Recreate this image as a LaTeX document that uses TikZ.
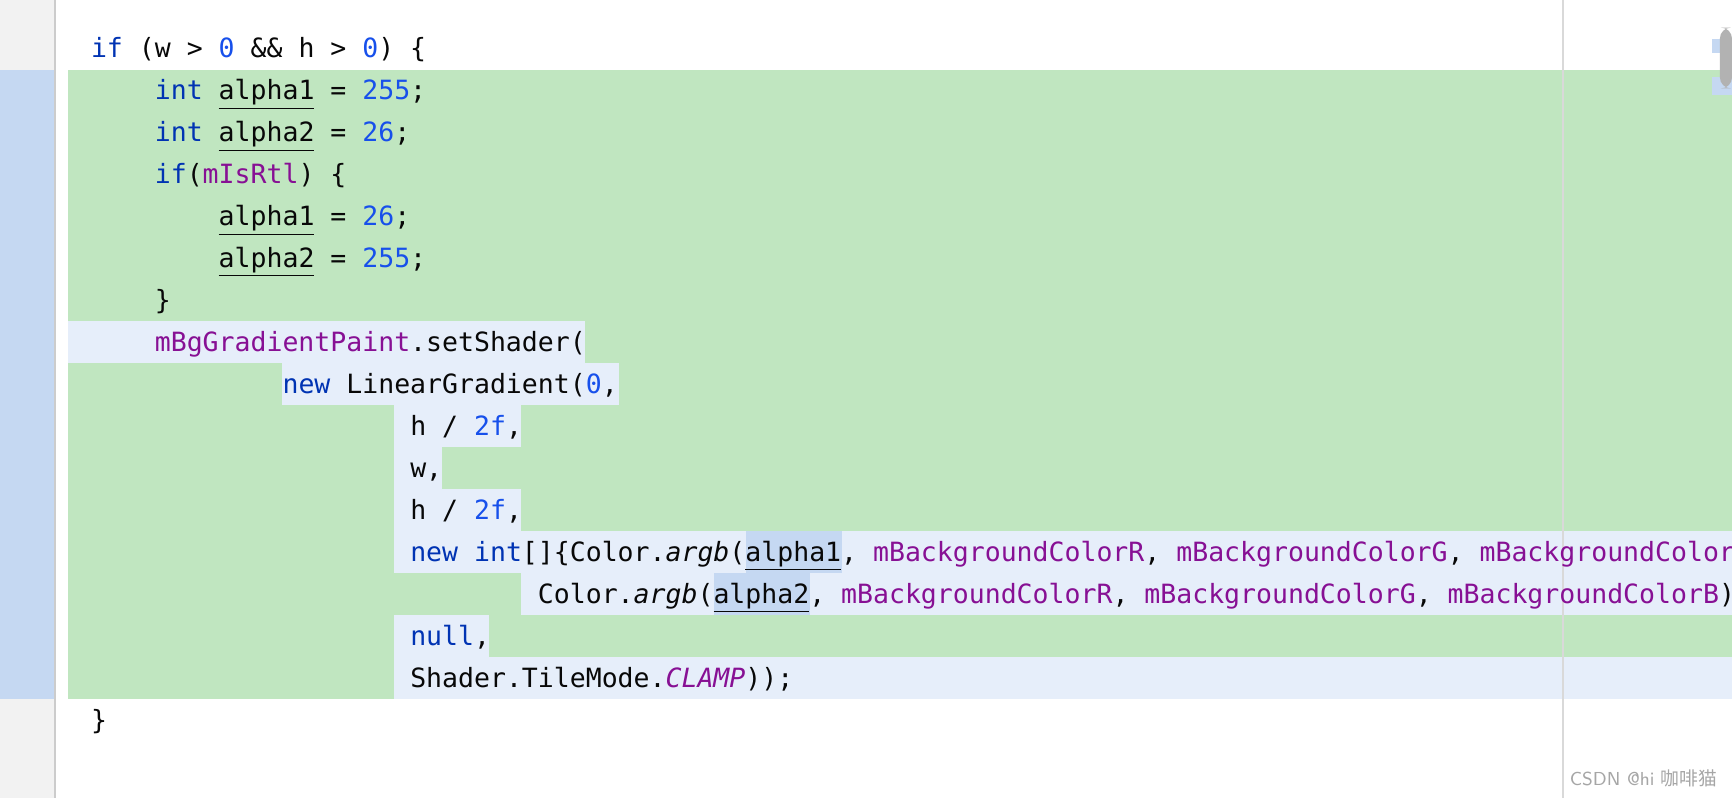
\documentclass[tikz,border=0pt]{standalone}
\usepackage{fontspec}
\setmonofont{DejaVu Sans Mono}
\newfontfamily\cjkf{Noto Sans CJK SC}
\definecolor{kw}{HTML}{0033B3}
\definecolor{nm}{HTML}{1750EB}
\definecolor{pu}{HTML}{871094}
\definecolor{tx}{HTML}{080808}
\definecolor{grn}{HTML}{C0E6C0}
\definecolor{lbl}{HTML}{E6EEFA}
\definecolor{dbl}{HTML}{C5D8F2}
\definecolor{gut}{HTML}{F2F2F2}
\newcommand{\Kw}[1]{\textcolor{kw}{#1}}
\newcommand{\Nm}[1]{\textcolor{nm}{#1}}
\newcommand{\Pu}[1]{\textcolor{pu}{#1}}
\newcommand{\Ul}[1]{\underline{#1}}
\tikzset{code/.style={anchor=base west,inner sep=0pt,font=\ttfamily\fontsize{12pt}{12pt}\selectfont,text=tx}}
\begin{document}
\begin{tikzpicture}[x=0.5pt,y=-0.5pt]
\useasboundingbox (0,0) rectangle (1568,722);
\clip (0,0) rectangle (1568,722);
\fill[white] (0,0) rectangle (1568,722);
\fill[gut] (0,0) rectangle (50,722);
\fill[dbl] (0,63) rectangle (50,633);
\draw[gray!40,line width=1pt] (50,0) -- (50,722);
\fill[grn] (62,63) rectangle (1568,633);
\fill[lbl] (62,291) rectangle (530,329);
\fill[lbl] (255,329) rectangle (560,367);
\fill[lbl] (357,367) rectangle (472,405);
\fill[lbl] (357,405) rectangle (400,443);
\fill[lbl] (357,443) rectangle (472,481);
\fill[lbl] (357,481) rectangle (1568,519);
\fill[lbl] (472,519) rectangle (1568,557);
\fill[lbl] (357,557) rectangle (443,595);
\fill[lbl] (357,595) rectangle (1568,633);
\fill[dbl] (675,481) rectangle (762,519);
\fill[dbl] (646,519) rectangle (733,557);
\draw[gray!30,line width=1pt] (1415,0) -- (1415,722);
\fill[dbl] (1550,35) rectangle (1568,48);
\fill[dbl] (1550,70) rectangle (1568,86);
\fill[gray!60,rounded corners=5pt] (1557,25) rectangle (1568,80);
\foreach \i/\c/\t in {
0/0/{\Kw{if} (w > \Nm{0} \&\& h > \Nm{0}) \{},
1/4/{\Kw{int} \Ul{alpha1} = \Nm{255};},
2/4/{\Kw{int} \Ul{alpha2} = \Nm{26};},
3/4/{\Kw{if}(\Pu{mIsRtl}) \{},
4/8/{\Ul{alpha1} = \Nm{26};},
5/8/{\Ul{alpha2} = \Nm{255};},
6/4/{\}},
7/4/{\Pu{mBgGradientPaint}.setShader(},
8/12/{\Kw{new} LinearGradient(\Nm{0},},
9/20/{h / \Nm{2f},},
10/20/{w,},
11/20/{h / \Nm{2f},},
12/20/{\Kw{new} \Kw{int}[]\{Color.\textit{argb}(\Ul{alpha1}, \Pu{mBackgroundColorR}, \Pu{mBackgroundColorG}, \Pu{mBackgroundColorB}),},
13/28/{Color.\textit{argb}(\Ul{alpha2}, \Pu{mBackgroundColorR}, \Pu{mBackgroundColorG}, \Pu{mBackgroundColorB})\},},
14/20/{\Kw{null},},
15/20/{Shader.TileMode.\Pu{\textit{CLAMP}}));},
16/0/{\}}}
{\node[code] (l\i) at ({82+14.45*\c},{52+38*\i}) {\t};}
\node[anchor=base east,inner sep=0pt,text=gray!70,font=\fontsize{8.5pt}{8.5pt}\sffamily] (wm) at (1555,711) {CSDN @hi {\cjkf 咖啡猫}};
\end{tikzpicture}
\end{document}
